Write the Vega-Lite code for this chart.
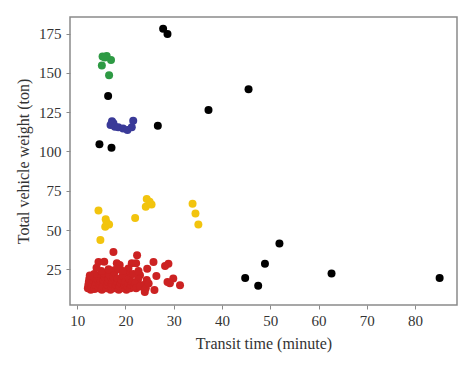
{
  "$schema": "https://vega.github.io/schema/vega-lite/v6.json",
  "autosize": "none",
  "width": 387,
  "height": 288,
  "padding": {"left": 70, "top": 17, "right": 17, "bottom": 62},
  "background": "white",
  "config": {
    "view": {"stroke": "#8a8a8a", "strokeWidth": 1.5},
    "axis": {"font": "Liberation Serif", "labelFont": "Liberation Serif", "titleFont": "Liberation Serif", "grid": false, "domain": false, "tickColor": "#8a8a8a", "tickSize": 4, "labelFontSize": 15, "titleFontSize": 16, "labelColor": "#333", "titleColor": "#333", "titleFontWeight": "normal"}
  },
  "data": {"values": [
    {"t": 27.8, "w": 178.2, "g": "k"}, {"t": 28.7, "w": 174.8, "g": "k"}, {"t": 45.5, "w": 139.6, "g": "k"},
    {"t": 16.4, "w": 135.3, "g": "k"}, {"t": 37.2, "w": 126.4, "g": "k"}, {"t": 26.7, "w": 116.4, "g": "k"},
    {"t": 14.6, "w": 104.6, "g": "k"}, {"t": 17.1, "w": 102.4, "g": "k"}, {"t": 51.9, "w": 41.5, "g": "k"},
    {"t": 48.9, "w": 28.6, "g": "k"}, {"t": 62.7, "w": 22.4, "g": "k"}, {"t": 44.8, "w": 19.5, "g": "k"},
    {"t": 47.5, "w": 14.6, "g": "k"}, {"t": 85.1, "w": 19.5, "g": "k"},
    {"t": 15.25, "w": 160.4, "g": "g"}, {"t": 16.1, "w": 160.8, "g": "g"}, {"t": 17.0, "w": 158.2, "g": "g"},
    {"t": 15.7, "w": 159.9, "g": "g"}, {"t": 15.1, "w": 154.8, "g": "g"}, {"t": 16.6, "w": 148.5, "g": "g"},
    {"t": 17.2, "w": 119.2, "g": "b"}, {"t": 16.9, "w": 116.9, "g": "b"}, {"t": 17.5, "w": 117.9, "g": "b"},
    {"t": 17.8, "w": 115.8, "g": "b"}, {"t": 18.5, "w": 115.4, "g": "b"}, {"t": 19.5, "w": 114.7, "g": "b"},
    {"t": 20.4, "w": 113.7, "g": "b"}, {"t": 21.3, "w": 115.4, "g": "b"}, {"t": 21.6, "w": 119.6, "g": "b"},
    {"t": 14.4, "w": 62.5, "g": "y"}, {"t": 14.8, "w": 43.7, "g": "y"}, {"t": 15.9, "w": 56.8, "g": "y"},
    {"t": 16.1, "w": 54.7, "g": "y"}, {"t": 15.8, "w": 52.1, "g": "y"}, {"t": 16.6, "w": 53.6, "g": "y"},
    {"t": 22.0, "w": 57.6, "g": "y"}, {"t": 24.4, "w": 69.8, "g": "y"}, {"t": 24.2, "w": 64.9, "g": "y"},
    {"t": 25.4, "w": 66.2, "g": "y"}, {"t": 25.0, "w": 68.0, "g": "y"}, {"t": 33.9, "w": 66.8, "g": "y"},
    {"t": 34.5, "w": 60.6, "g": "y"}, {"t": 35.1, "w": 53.6, "g": "y"},
    {"t": 17.5, "w": 36.0, "g": "r"}, {"t": 22.4, "w": 33.9, "g": "r"}, {"t": 14.4, "w": 29.7, "g": "r"},
    {"t": 15.6, "w": 29.9, "g": "r"}, {"t": 18.2, "w": 28.8, "g": "r"}, {"t": 18.8, "w": 27.7, "g": "r"},
    {"t": 21.3, "w": 28.8, "g": "r"}, {"t": 22.2, "w": 28.8, "g": "r"}, {"t": 25.8, "w": 29.7, "g": "r"},
    {"t": 28.9, "w": 28.6, "g": "r"}, {"t": 28.2, "w": 27.1, "g": "r"}, {"t": 24.5, "w": 25.4, "g": "r"},
    {"t": 26.4, "w": 20.7, "g": "r"}, {"t": 29.9, "w": 19.2, "g": "r"}, {"t": 31.3, "w": 14.8, "g": "r"},
    {"t": 26.0, "w": 11.8, "g": "r"}, {"t": 24.0, "w": 10.6, "g": "r"}, {"t": 28.7, "w": 16.9, "g": "r"},
    {"t": 29.2, "w": 16.1, "g": "r"}, {"t": 23.0, "w": 21.2, "g": "r"}, {"t": 22.6, "w": 18.6, "g": "r"},
    {"t": 24.4, "w": 18.2, "g": "r"}, {"t": 23.7, "w": 15.1, "g": "r"}, {"t": 20.2, "w": 22.9, "g": "r"},
    {"t": 20.6, "w": 25.6, "g": "r"}, {"t": 17.8, "w": 24.6, "g": "r"},
    {"t": 12.2, "w": 13, "g": "r"}, {"t": 12.3, "w": 15, "g": "r"}, {"t": 12.4, "w": 17, "g": "r"},
    {"t": 12.5, "w": 19, "g": "r"}, {"t": 12.8, "w": 12, "g": "r"}, {"t": 13.0, "w": 14, "g": "r"},
    {"t": 13.1, "w": 16, "g": "r"}, {"t": 13.3, "w": 18, "g": "r"}, {"t": 13.4, "w": 20, "g": "r"},
    {"t": 13.6, "w": 12.5, "g": "r"}, {"t": 13.8, "w": 15, "g": "r"}, {"t": 14.0, "w": 17, "g": "r"},
    {"t": 14.1, "w": 19, "g": "r"}, {"t": 14.3, "w": 21, "g": "r"}, {"t": 14.5, "w": 13, "g": "r"},
    {"t": 14.7, "w": 15.5, "g": "r"}, {"t": 14.9, "w": 17.5, "g": "r"}, {"t": 15.1, "w": 12, "g": "r"},
    {"t": 15.2, "w": 14, "g": "r"}, {"t": 15.4, "w": 16, "g": "r"}, {"t": 15.5, "w": 18, "g": "r"},
    {"t": 15.7, "w": 20, "g": "r"}, {"t": 15.8, "w": 22, "g": "r"}, {"t": 16.0, "w": 13, "g": "r"},
    {"t": 16.2, "w": 15, "g": "r"}, {"t": 16.4, "w": 17, "g": "r"}, {"t": 16.5, "w": 19, "g": "r"},
    {"t": 16.7, "w": 21, "g": "r"}, {"t": 16.9, "w": 12, "g": "r"}, {"t": 17.0, "w": 14, "g": "r"},
    {"t": 17.2, "w": 16, "g": "r"}, {"t": 17.4, "w": 18, "g": "r"}, {"t": 17.5, "w": 20, "g": "r"},
    {"t": 17.7, "w": 23, "g": "r"}, {"t": 17.9, "w": 13, "g": "r"}, {"t": 18.1, "w": 15, "g": "r"},
    {"t": 18.3, "w": 17, "g": "r"}, {"t": 18.4, "w": 19, "g": "r"}, {"t": 18.6, "w": 12, "g": "r"},
    {"t": 18.8, "w": 14, "g": "r"}, {"t": 19.0, "w": 16, "g": "r"}, {"t": 19.2, "w": 18, "g": "r"},
    {"t": 19.4, "w": 21, "g": "r"}, {"t": 19.6, "w": 13, "g": "r"}, {"t": 19.8, "w": 15, "g": "r"},
    {"t": 20.0, "w": 17, "g": "r"}, {"t": 20.2, "w": 12, "g": "r"}, {"t": 20.4, "w": 14, "g": "r"},
    {"t": 20.6, "w": 16, "g": "r"}, {"t": 20.8, "w": 19, "g": "r"}, {"t": 21.0, "w": 13, "g": "r"},
    {"t": 21.2, "w": 15, "g": "r"}, {"t": 21.4, "w": 17, "g": "r"}, {"t": 21.6, "w": 22, "g": "r"},
    {"t": 21.8, "w": 14, "g": "r"}, {"t": 22.0, "w": 16, "g": "r"}, {"t": 22.2, "w": 13, "g": "r"},
    {"t": 13.5, "w": 22, "g": "r"}, {"t": 15.0, "w": 24, "g": "r"}, {"t": 16.5, "w": 25, "g": "r"},
    {"t": 18.5, "w": 25, "g": "r"}, {"t": 14.0, "w": 26, "g": "r"}, {"t": 12.6, "w": 21, "g": "r"},
    {"t": 19.5, "w": 24, "g": "r"}, {"t": 23.0, "w": 14, "g": "r"}, {"t": 24.2, "w": 13, "g": "r"},
    {"t": 24.8, "w": 16, "g": "r"}, {"t": 22.7, "w": 24, "g": "r"}
  ]},
  "mark": {"type": "circle", "size": 64, "opacity": 1},
  "encoding": {
    "x": {"field": "t", "type": "quantitative", "title": "Transit time (minute)", "scale": {"domain": [8.5, 88.7], "nice": false, "zero": false}, "axis": {"values": [10, 20, 30, 40, 50, 60, 70, 80], "labelPadding": 4, "titlePadding": 7}},
    "y": {"field": "w", "type": "quantitative", "title": "Total vehicle weight (ton)", "scale": {"domain": [2.3, 185.6], "nice": false, "zero": false}, "axis": {"values": [25, 50, 75, 100, 125, 150, 175], "labelPadding": 5, "titlePadding": 7}},
    "color": {"field": "g", "type": "nominal", "legend": null, "scale": {"domain": ["k", "g", "b", "y", "r"], "range": ["#000000", "#2e9a44", "#3a3a98", "#f2c40e", "#cc2222"]}}
  }
}
